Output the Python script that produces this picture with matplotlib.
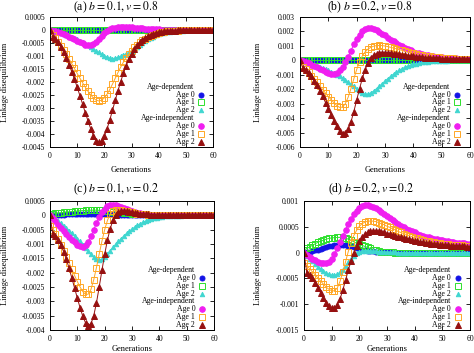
import matplotlib.pyplot as plt
import numpy as np
from matplotlib.ticker import FuncFormatter

plt.rcParams['font.family'] = ['Liberation Serif', 'DejaVu Serif']
plt.rcParams['mathtext.fontset'] = 'stix'

# generations 0..60, values below are in units of 1e-4
generations = np.arange(61)

# (a) b = 0.1, v = 0.8
a_dep0 = [0, 0, 0, 0, 0, 0, 0, 0, 0, 0,
          0, 0, 0, 0, 0, 0, 0, 0, 0, 0,
          0, 0, 0, 0, 0, 0, 0, 0, 0, 0,
          0, 0, 0, 0, 0, 0, 0, 0, 0, 0,
          0, 0, 0, 0, 0, 0, 0, 0, 0, 0,
          0, 0, 0, 0, 0, 0, 0, 0, 0, 0,
          0]
a_dep1 = [0, 0, 0, 0, 0, 0, 0, 0, 0, 0,
          0, 0, 0, 0, 0, 0, 0, 0, 0, 0,
          0, 0, 0, 0, 0, 0, 0, 0, 0, 0,
          0, 0, 0, 0, 0, 0, 0, 0, 0, 0,
          0, 0, 0, 0, 0, 0, 0, 0, 0, 0,
          0, 0, 0, 0, 0, 0, 0, 0, 0, 0,
          0]
a_dep2 = [0, -0.3, -0.6, -0.9, -1.2, -1.5, -1.9, -2.3, -2.7, -3.1,
          -3.6, -4.1, -4.7, -5.3, -5.9, -6.5, -7.2, -7.9, -8.6, -9.3,
          -9.9, -10.4, -10.8, -11.0, -10.8, -10.5, -10.1, -9.6, -9.1, -8.6,
          -8.0, -7.3, -6.6, -5.8, -5.0, -4.3, -3.6, -3.0, -2.5, -2.0,
          -1.6, -1.3, -1.0, -0.8, -0.6, -0.5, -0.4, -0.3, -0.2, -0.2,
          -0.1, -0.1, -0.1, -0.1, 0, 0, 0, 0, 0, 0,
          0]
a_ind0 = [0, -0.2, -0.5, -0.8, -1.2, -1.6, -2.1, -2.6, -3.1, -3.6,
          -4.1, -4.6, -5.1, -5.6, -5.9, -5.8, -5.3, -4.5, -3.4, -2.2,
          -1.1, -0.2, 0.4, 0.7, 0.9, 1.0, 1.1, 1.1, 1.1, 1.0,
          1.0, 0.9, 0.8, 0.7, 0.6, 0.5, 0.4, 0.3, 0.3, 0.2,
          0.2, 0.1, 0.1, 0.1, 0.1, 0, 0, 0, 0, 0,
          0, 0, 0, 0, 0, 0, 0, 0, 0, 0,
          0]
a_ind1 = [-1.0, -2.0, -3.2, -4.6, -6.1, -7.7, -9.4, -11.1, -12.9, -14.8,
          -16.7, -18.5, -20.3, -22.0, -23.6, -25.0, -26.2, -27.0, -27.3, -27.0,
          -26.1, -24.7, -22.9, -20.8, -18.6, -16.4, -14.3, -12.4, -10.7, -9.2,
          -7.9, -6.7, -5.7, -4.8, -4.0, -3.3, -2.7, -2.2, -1.8, -1.4,
          -1.1, -0.9, -0.7, -0.5, -0.4, -0.3, -0.2, -0.2, -0.1, -0.1,
          -0.1, -0.1, 0, 0, 0, 0, 0, 0, 0, 0,
          0]
a_ind2 = [0, -2.5, -3.5, -4.8, -6.5, -8.5, -10.8, -13.3, -16.0, -18.9,
          -22.0, -25.2, -28.5, -31.8, -35.0, -38.0, -40.6, -42.5, -43.2, -42.6,
          -40.8, -38.0, -34.6, -30.9, -27.1, -23.4, -19.9, -16.7, -13.8, -11.3,
          -9.2, -7.4, -5.9, -4.7, -3.7, -2.9, -2.3, -1.8, -1.4, -1.1,
          -0.8, -0.6, -0.5, -0.4, -0.3, -0.2, -0.2, -0.1, -0.1, -0.1,
          0, 0, 0, 0, 0, 0, 0, 0, 0, 0,
          0]

# (b) b = 0.2, v = 0.8
b_dep0 = [0, 0, 0, 0, 0, 0, 0, 0, 0, 0,
          0, 0, 0, 0, 0, 0, 0, 0, 0, 0,
          0, 0, 0, 0, 0, 0, 0, 0, 0, 0,
          0, 0, 0, 0, 0, 0, 0, 0, 0, 0,
          0, 0, 0, 0, 0, 0, 0, 0, 0, 0,
          0, 0, 0, 0, 0, 0, 0, 0, 0, 0,
          0]
b_dep1 = [0, 0, 0, 0, 0, 0, 0, 0, 0, 0,
          0, 0, 0, 0, 0, 0, 0, 0, 0, 0,
          0, 0, 0, 0, 0, 0, 0, 0, 0, 0,
          0, 0, 0, 0, 0, 0, 0, 0, 0, 0,
          0, 0, 0, 0, 0, 0, 0, 0, 0, 0,
          0, 0, 0, 0, 0, 0, 0, 0, 0, 0,
          0]
b_dep2 = [0, -0.5, -1.0, -1.6, -2.2, -2.9, -3.6, -4.4, -5.2, -6.0,
          -6.9, -7.8, -8.8, -9.9, -11.0, -12.2, -13.5, -14.9, -16.4, -18.0,
          -19.6, -21.2, -22.6, -23.4, -23.3, -22.5, -21.2, -19.6, -17.9, -16.1,
          -14.3, -12.6, -11.0, -9.5, -8.1, -6.9, -5.8, -4.8, -4.0, -3.3,
          -2.7, -2.2, -1.8, -1.4, -1.1, -0.9, -0.7, -0.5, -0.4, -0.3,
          -0.3, -0.2, -0.2, -0.1, -0.1, -0.1, -0.1, 0, 0, 0,
          0]
b_ind0 = [0, -0.5, -1.2, -2.0, -2.9, -3.9, -4.9, -5.9, -6.9, -7.9,
          -8.7, -9.2, -9.3, -8.8, -7.0, -4.5, -1.3, 2.5, 6.8, 11.0,
          14.7, 17.8, 20.2, 21.8, 22.5, 22.4, 21.8, 20.9, 19.8, 18.5,
          17.2, 15.8, 14.4, 13.1, 11.9, 10.7, 9.6, 8.6, 7.7, 6.9,
          6.1, 5.4, 4.8, 4.3, 3.8, 3.4, 3.0, 2.7, 2.4, 2.2,
          2.0, 1.8, 1.6, 1.5, 1.4, 1.3, 1.2, 1.1, 1.1, 1.0,
          1.0]
b_ind1 = [-3.0, -4.5, -6.3, -8.3, -10.5, -12.8, -15.2, -17.7, -20.2, -22.7,
          -25.1, -27.3, -29.4, -31.3, -32.6, -32.4, -30.0, -25.5, -19.5, -12.8,
          -6.4, -1.0, 3.0, 5.9, 7.8, 9.0, 9.8, 10.2, 10.3, 10.2,
          9.9, 9.5, 9.0, 8.5, 8.0, 7.4, 6.9, 6.3, 5.8, 5.3,
          4.8, 4.4, 4.0, 3.6, 3.3, 3.0, 2.7, 2.4, 2.2, 2.0,
          1.8, 1.6, 1.5, 1.4, 1.3, 1.2, 1.1, 1.0, 1.0, 0.9,
          0.9]
b_ind2 = [0, -5.0, -6.5, -8.5, -11.0, -14.0, -17.3, -21.0, -25.0, -29.2,
          -33.5, -37.8, -42.0, -45.8, -49.0, -50.8, -50.5, -47.8, -42.5, -35.5,
          -27.5, -19.7, -12.5, -6.5, -1.5, 1.8, 3.6, 4.6, 5.1, 5.3,
          5.3, 5.2, 5.0, 4.7, 4.4, 4.1, 3.8, 3.5, 3.2, 2.9,
          2.7, 2.4, 2.2, 2.0, 1.9, 1.7, 1.6, 1.5, 1.4, 1.3,
          1.2, 1.1, 1.0, 1.0, 0.9, 0.9, 0.8, 0.8, 0.8, 0.7,
          0.7]

# (c) b = 0.1, v = 0.2
c_dep0 = [0, 0.05, 0.1, 0.15, 0.2, 0.25, 0.3, 0.35, 0.4, 0.45,
          0.5, 0.55, 0.6, 0.6, 0.6, 0.6, 0.6, 0.55, 0.5, 0.5,
          0.45, 0.4, 0.35, 0.3, 0.3, 0.25, 0.2, 0.2, 0.15, 0.1,
          0.1, 0.05, 0.05, 0.05, 0.05, 0.05, 0, 0, 0, 0,
          0, 0, 0, 0, 0, 0, 0, 0, 0, 0,
          0, 0, 0, 0, 0, 0, 0, 0, 0, 0,
          0]
c_dep1 = [0.5, 0.6, 0.7, 0.8, 0.9, 1.0, 1.1, 1.2, 1.3, 1.4,
          1.5, 1.6, 1.65, 1.7, 1.75, 1.8, 1.8, 1.8, 1.75, 1.7,
          1.6, 1.5, 1.4, 1.3, 1.2, 1.1, 1.0, 0.9, 0.8, 0.7,
          0.6, 0.5, 0.45, 0.4, 0.35, 0.3, 0.25, 0.2, 0.15, 0.1,
          0.1, 0.05, 0.05, 0.05, 0, 0, 0, 0, 0, 0,
          0, 0, 0, 0, 0, 0, 0, 0, 0, 0,
          0]
c_dep2 = [0, -0.6, -1.3, -2.0, -2.8, -3.6, -4.4, -5.3, -6.2, -7.1,
          -8.1, -9.1, -10.2, -11.3, -12.4, -13.5, -14.5, -15.3, -15.6, -15.3,
          -14.4, -13.4, -12.3, -11.2, -10.1, -9.1, -8.1, -7.2, -6.3, -5.5,
          -4.8, -4.1, -3.5, -2.9, -2.4, -2.0, -1.6, -1.3, -1.0, -0.8,
          -0.6, -0.5, -0.4, -0.3, -0.2, -0.2, -0.1, -0.1, -0.1, 0,
          0, 0, 0, 0, 0, 0, 0, 0, 0, 0,
          0]
c_ind0 = [0, -1.0, -2.1, -3.2, -4.3, -5.4, -6.5, -7.5, -8.5, -9.4,
          -10.2, -10.8, -11.0, -10.5, -9.2, -7.3, -5.0, -2.7, -0.7, 1.0,
          2.3, 3.1, 3.5, 3.6, 3.5, 3.3, 3.0, 2.6, 2.2, 1.8,
          1.5, 1.2, 0.9, 0.7, 0.5, 0.4, 0.3, 0.2, 0.1, 0.1,
          0, 0, 0, 0, 0, 0, 0, 0, 0, 0,
          0, 0, 0, 0, 0, 0, 0, 0, 0, 0,
          0]
c_ind1 = [-3.7, -5.0, -6.6, -8.4, -10.3, -12.3, -14.4, -16.6, -18.8, -21.0,
          -23.1, -25.0, -26.6, -27.6, -27.5, -25.8, -22.5, -18.2, -13.5, -9.0,
          -5.0, -1.8, 0.4, 1.5, 1.9, 1.9, 1.8, 1.6, 1.4, 1.2,
          1.0, 0.8, 0.6, 0.5, 0.4, 0.3, 0.2, 0.2, 0.1, 0.1,
          0.1, 0, 0, 0, 0, 0, 0, 0, 0, 0,
          0, 0, 0, 0, 0, 0, 0, 0, 0, 0,
          0]
c_ind2 = [0, -6.5, -7.3, -8.6, -10.4, -12.7, -15.4, -18.5, -21.9, -25.4,
          -28.9, -32.2, -35.2, -37.5, -38.5, -37.8, -35.0, -30.5, -25.0, -19.2,
          -13.6, -8.7, -4.7, -1.8, 0.2, 1.2, 1.6, 1.6, 1.5, 1.3,
          1.1, 0.9, 0.7, 0.6, 0.4, 0.3, 0.3, 0.2, 0.1, 0.1,
          0.1, 0, 0, 0, 0, 0, 0, 0, 0, 0,
          0, 0, 0, 0, 0, 0, 0, 0, 0, 0,
          0]

# (d) b = 0.2, v = 0.2
d_dep0 = [0, 0.1, 0.2, 0.3, 0.45, 0.6, 0.75, 0.9, 1.05, 1.2,
          1.3, 1.4, 1.45, 1.5, 1.45, 1.4, 1.3, 1.2, 1.05, 0.9,
          0.75, 0.6, 0.5, 0.4, 0.3, 0.25, 0.2, 0.15, 0.1, 0.1,
          0.05, 0.05, 0, 0, 0, 0, 0, 0, 0, 0,
          0, 0, 0, 0, 0, 0, 0, 0, 0, 0,
          0, 0, 0, 0, 0, 0, 0, 0, 0, 0,
          0]
d_dep1 = [0.5, 0.8, 1.1, 1.4, 1.7, 2.0, 2.2, 2.4, 2.6, 2.75,
          2.85, 2.9, 2.95, 2.95, 2.9, 2.8, 2.6, 2.4, 2.1, 1.8,
          1.6, 1.4, 1.2, 1.0, 0.8, 0.6, 0.45, 0.3, 0.2, 0.15,
          0.1, 0.05, 0.05, 0, 0, 0, 0, 0, 0, 0,
          0, 0, 0, 0, 0, 0, 0, 0, 0, 0,
          0, 0, 0, 0, 0, 0, 0, 0, 0, 0,
          0]
d_dep2 = [0, -0.6, -1.2, -1.7, -2.2, -2.7, -3.1, -3.5, -3.9, -4.2,
          -4.35, -4.4, -4.2, -3.8, -3.3, -2.6, -1.9, -1.2, -0.6, -0.1,
          0.2, 0.35, 0.4, 0.4, 0.35, 0.3, 0.25, 0.2, 0.15, 0.1,
          0.1, 0.05, 0.05, 0.05, 0, 0, 0, 0, 0, 0,
          0, 0, 0, 0, 0, 0, 0, 0, 0, 0,
          0, 0, 0, 0, 0, 0, 0, 0, 0, 0,
          0]
d_ind0 = [0, -0.4, -0.8, -1.2, -1.5, -1.8, -2.0, -2.1, -2.1, -1.8,
          -1.2, -0.3, 0.8, 2.0, 3.2, 4.4, 5.5, 6.5, 7.4, 8.1,
          8.6, 9.0, 9.2, 9.2, 9.1, 8.9, 8.6, 8.3, 7.9, 7.5,
          7.1, 6.7, 6.3, 5.9, 5.5, 5.2, 4.9, 4.6, 4.3, 4.1,
          3.9, 3.7, 3.5, 3.3, 3.1, 3.0, 2.8, 2.7, 2.6, 2.5,
          2.4, 2.3, 2.2, 2.1, 2.0, 1.95, 1.9, 1.85, 1.8, 1.75,
          1.7]
d_ind1 = [-2.0, -2.5, -3.1, -3.7, -4.3, -4.9, -5.5, -6.1, -6.7, -7.1,
          -7.4, -7.4, -6.9, -5.6, -3.8, -1.8, 0.2, 1.9, 3.3, 4.3,
          5.1, 5.6, 5.9, 6.1, 6.1, 6.1, 6.0, 5.8, 5.6, 5.4,
          5.1, 4.9, 4.6, 4.4, 4.1, 3.9, 3.7, 3.5, 3.3, 3.1,
          2.9, 2.8, 2.6, 2.5, 2.3, 2.2, 2.1, 2.0, 1.9, 1.8,
          1.75, 1.7, 1.6, 1.55, 1.5, 1.45, 1.4, 1.4, 1.35, 1.3,
          1.3]
d_ind2 = [0, -3.9, -4.3, -5.0, -5.8, -6.8, -7.8, -8.8, -9.7, -10.4,
          -10.8, -10.8, -10.2, -9.0, -7.3, -5.4, -3.4, -1.6, -0.1, 1.2,
          2.2, 3.0, 3.6, 3.9, 4.1, 4.2, 4.2, 4.1, 4.0, 3.9,
          3.7, 3.6, 3.4, 3.3, 3.1, 3.0, 2.8, 2.7, 2.6, 2.4,
          2.3, 2.2, 2.1, 2.0, 1.9, 1.8, 1.75, 1.7, 1.6, 1.55,
          1.5, 1.45, 1.4, 1.35, 1.3, 1.3, 1.25, 1.2, 1.2, 1.15,
          1.1]

series_labels = ["Age 0", "Age 1", "Age 2"]

# color, marker, filled, markersize
styles = [
    ("#1414e6", "o", True, 3.6),
    ("#2ee02e", "s", False, 4.2),
    ("#3fd6d0", "^", True, 3.2),
    ("#f01ef0", "o", True, 4.0),
    ("#ffa726", "s", False, 4.6),
    ("#961010", "^", True, 3.8),
]

panels = [
    (r"(a) $b = 0.1, v = 0.8$", [a_dep0, a_dep1, a_dep2, a_ind0, a_ind1, a_ind2],
     (-0.0045, 0.0005), 0.0005, [50, 147, 163, 130], (116, 7.5), 9, -0.145),
    (r"(b) $b = 0.2, v = 0.8$", [b_dep0, b_dep1, b_dep2, b_ind0, b_ind1, b_ind2],
     (-0.006, 0.003), 0.001, [300, 147, 170, 130], (370, 7.5), 262, -0.145),
    (r"(c) $b = 0.1, v = 0.2$", [c_dep0, c_dep1, c_dep2, c_ind0, c_ind1, c_ind2],
     (-0.004, 0.0005), 0.0005, [50, 330, 164, 129], (116, 189), 9, -0.118),
    (r"(d) $b = 0.2, v = 0.2$", [d_dep0, d_dep1, d_dep2, d_ind0, d_ind1, d_ind2],
     (-0.0015, 0.001), 0.0005, [304, 330, 166, 129], (371, 189), 262, -0.118),
]

W, H = 474, 353


def tick_fmt(v, pos):
    v = round(v, 6)
    if v == 0:
        return "0"
    return f"{v:g}"


fig = plt.figure(figsize=(W / 100, H / 100), dpi=100)

for title, data, ylim, step, box, tpos, ylab_x, xlab_y in panels:
    left, bottom, w, h = box
    ax = fig.add_axes([left / W, 1 - bottom / H, w / W, h / H])
    for vals, (color, marker, filled, ms) in zip(data, styles):
        y = np.array(vals) * 1e-4
        ax.plot(generations, y, color=color, lw=0.7, marker=marker, ms=ms,
                mfc=color if filled else "none", mec=color, mew=0.7)
    ax.set_xlim(0, 60)
    ax.set_ylim(*ylim)
    ax.set_xticks(np.arange(0, 61, 10))
    ax.set_yticks(np.arange(ylim[0], ylim[1] + step / 2, step))
    ax.yaxis.set_major_formatter(FuncFormatter(tick_fmt))
    ax.tick_params(direction="in", length=3, width=0.6, top=True, right=True,
                   labelsize=5.5, pad=3.5)
    for sp in ax.spines.values():
        sp.set_linewidth(0.7)
    ax.set_xlabel("Generations", fontsize=6)
    ax.xaxis.set_label_coords(0.5, xlab_y)
    ax.set_ylabel("Linkage disequilibrium", fontsize=6)
    ax.yaxis.set_label_coords((ylab_x - left) / w, 0.5)
    fig.text(tpos[0] / W, 1 - tpos[1] / H, title, ha="center", va="center", fontsize=8.5)

    # gnuplot style key, lower right
    rows = [("Age-dependent", None)] + list(zip(series_labels, styles[:3])) + \
           [("Age-independent", None)] + list(zip(series_labels, styles[3:]))
    for i, (lab, st) in enumerate(rows):
        ky = 0.463 - i * 0.0603
        ax.text(0.885, ky, lab, transform=ax.transAxes, ha="right", va="center",
                fontsize=5.6)
        if st is not None:
            color, marker, filled, ms = st
            ax.plot([0.925], [ky], transform=ax.transAxes, clip_on=False,
                    marker=marker, ms=ms, color=color,
                    mfc=color if filled else "none", mec=color, mew=0.7)

fig.savefig("out.png", dpi=100)
